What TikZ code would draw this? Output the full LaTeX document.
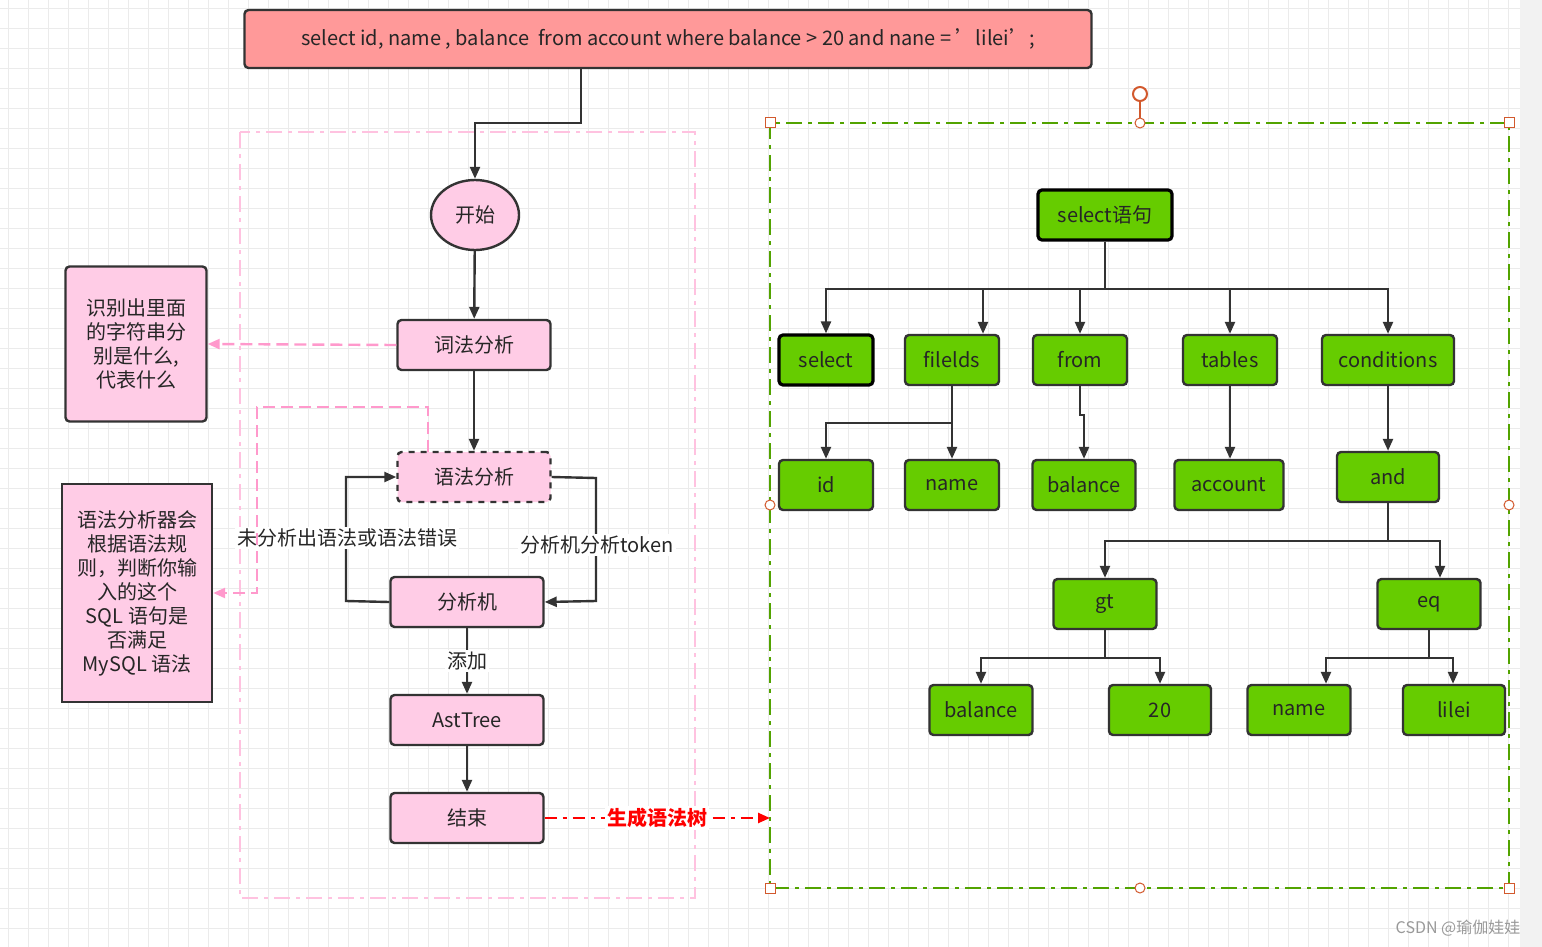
\documentclass[tikz,border=0pt]{standalone}
\usepackage{fontspec}
\setmainfont{Noto Sans CJK SC}
\usetikzlibrary{arrows.meta,shapes.geometric}
\definecolor{pk}{HTML}{FFCCE6}
\definecolor{sal}{HTML}{FF9999}
\definecolor{gr}{HTML}{66CC00}
\definecolor{ln}{HTML}{333333}
\definecolor{pd}{HTML}{FF99CC}
\begin{document}
\begin{tikzpicture}[x=0.5pt,y=-0.5pt,font=\fontsize{10}{12}\selectfont,
 box/.style={draw=ln,line width=1.2pt,rounded corners=2pt,inner sep=0pt,text=black!85},
 pbox/.style={box,fill=pk,minimum width=76.5pt,minimum height=25pt},
 gbox/.style={box,fill=gr,minimum width=47pt,minimum height=25pt},
 ar/.style={draw=ln,line width=1.2pt,-{Triangle[length=6pt,width=5pt]}},
 pa/.style={draw=pd,line width=1.2pt,dash pattern=on 6pt off 3pt,-{Triangle[length=6pt,width=5pt]}},
 lab/.style={fill=white,inner sep=1pt,text=black!85}]
\useasboundingbox (0,0) rectangle (1542,947);
\fill[white] (0,0) rectangle (1542,947);
\foreach \x in {8,28,...,1520} \draw[black!8,line width=0.4pt] (\x,0)--(\x,947);
\foreach \y in {8,28,...,940} \draw[black!8,line width=0.4pt] (0,\y)--(1520,\y);
\fill[black!5] (1520,0) rectangle (1542,947);
% containers
\draw[pd!60,line width=0.9pt,dash pattern=on 8pt off 3pt on 2pt off 3pt] (240,132) rectangle (695,898);
\draw[gr!80!black,line width=1.2pt,dash pattern=on 8pt off 3pt on 2pt off 3pt] (770,123) rectangle (1509,888);
\draw[brown!70!red,line width=0.6pt] (1140,123)--(1140,100);
\draw[brown!70!red,line width=1pt,fill=white] (1140,94) circle (3.5pt);
\foreach \p in {(770,123),(1509,123),(770,888),(1509,888)} \draw[brown!70!red,fill=white,line width=0.5pt] \p ++(-5,-5) rectangle ++(10,10);
\foreach \p in {(1140,123),(1140,888),(770,505),(1509,505)} \draw[brown!70!red,fill=white,line width=0.5pt] \p circle (2.5pt);
% left flow
\node[box,fill=sal,minimum width=423.5pt,minimum height=29pt] (top) at (668,39) {select id, name , balance \ from account where balance > 20 and nane = 'lilei';};
\node[box,fill=pk,ellipse,minimum width=44pt,minimum height=35pt] (st) at (475,215) {开始};
\node[pbox] (lex) at (474,345) {词法分析};
\node[pbox,dashed] (syn) at (474,477) {语法分析};
\node[pbox] (an) at (467,602) {分析机};
\node[pbox] (ast) at (467,720) {AstTree};
\node[pbox] (end) at (467,818) {结束};
\node[box,fill=pk,minimum width=70.5pt,minimum height=77.5pt,align=center] (l1) at (136,344) {识别出里面\\的字符串分\\别是什么,\\代表什么};
\node[box,fill=pk,minimum width=75pt,minimum height=109pt,align=center,rounded corners=0pt] (l2) at (137,593) {语法分析器会\\根据语法规\\则，判断你输\\入的这个\\SQL 语句是\\否满足\\MySQL 语法};
\draw[ar] (top.south -| 581,0) |- (475,123) -- (st.north);
\draw[ar] (st) -- (lex);
\draw[ar] (lex) -- (syn);
\draw[ar] (syn.east) -- (596,478) -- (596,601) -- (an.east);
\draw[ar] (an.west) -- (346,601) -- (346,477) -- (syn.west);
\node[lab] at (347,538) {未分析出语法或语法错误};
\node[lab] at (597,545) {分析机分析token};
\draw[ar] (an) -- node[lab]{添加} (ast);
\draw[ar] (ast) -- (end);
\draw[pa] (lex.west) -- (l1.east);
\draw[pa] (428,452) -- (428,407) -- (257,407) -- (257,593) -- (l2.east);
\coordinate (gin) at (770,818);
\draw[red,line width=1.2pt,dash pattern=on 6pt off 3pt on 2pt off 3pt,-{Triangle[length=6pt,width=5pt]}] (end.east) -- node[lab,text=red,font=\fontsize{10}{12}\selectfont\bfseries]{生成语法树} (gin);
% tree
\node[gbox,minimum width=67pt,line width=1.6pt,draw=black] (root) at (1105,215) {select语句};
\node[gbox,line width=1.6pt,draw=black] (sel) at (826,360) {select};
\node[gbox] (fil) at (952,360) {filelds};
\node[gbox] (fro) at (1080,360) {from};
\node[gbox] (tab) at (1230,360) {tables};
\node[gbox,minimum width=66pt] (con) at (1388,360) {conditions};
\node[gbox] (id) at (826,485) {id};
\node[gbox] (nm) at (952,485) {name};
\node[gbox,minimum width=51.5pt] (bal) at (1084,485) {balance};
\node[gbox,minimum width=54.5pt] (acc) at (1229,485) {account};
\node[gbox,minimum width=51pt] (and) at (1388,477) {and};
\node[gbox,minimum width=51.5pt] (gt) at (1105,604) {gt};
\node[gbox,minimum width=51.5pt] (eq) at (1429,604) {eq};
\node[gbox,minimum width=51.5pt] (b2) at (981,710) {balance};
\node[gbox,minimum width=51pt] (v20) at (1160,710) {20};
\node[gbox,minimum width=51.5pt] (n2) at (1299,710) {name};
\node[gbox,minimum width=51pt] (li) at (1454,710) {lilei};
\foreach \t/\x in {sel/826,fil/983,fro/1080,tab/1230,con/1388}
 \draw[ar] (root.south) -- (1105,289) -| (\x,0 |- \t.north);
\draw[ar] (fil.south) -- (952,423) -| (id.north);
\draw[ar] (fil) -- (nm);
\draw[ar] (fro.south) -- (1080,415) -- (1084,415) -- (bal.north);
\draw[ar] (tab.south) -- (acc.north -| tab.south);
\draw[ar] (con) -- (and);
\draw[ar] (and.south) -- (1388,541) -| (gt.north);
\draw[ar] (1388,541) -| (1440,0 |- eq.north);
\draw[ar] (gt.south) -- (1105,658) -| (b2.north);
\draw[ar] (1105,658) -| (v20.north);
\draw[ar] (eq.south) -- (1429,658) -| (1326,0 |- n2.north);
\draw[ar] (1429,658) -| (1453,0 |- li.north);
\node[text=black!40,font=\fontsize{8}{10}\selectfont] at (1458,928) {CSDN @瑜伽娃娃};
\end{tikzpicture}
\end{document}
